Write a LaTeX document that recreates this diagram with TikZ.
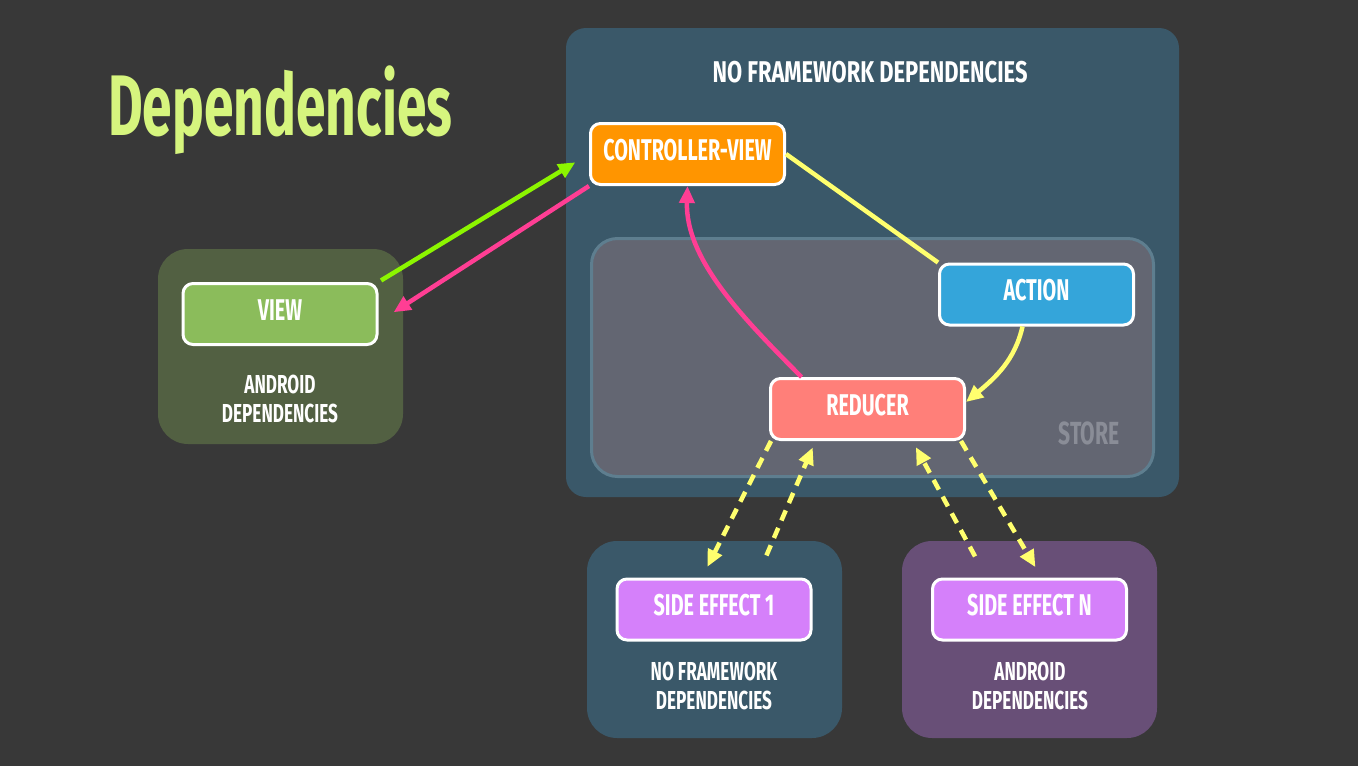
\documentclass[tikz,border=0pt]{standalone}
\usepackage{fontspec}
\setmainfont{Fira Sans}[FakeStretch=0.66]
\newfontfamily\titlefont{Fira Sans}[FakeStretch=0.62]
\newfontfamily\headfont{Fira Sans}[FakeStretch=0.73]
\usetikzlibrary{arrows.meta,positioning}
\definecolor{bgc}{HTML}{383838}
\definecolor{titlec}{HTML}{D6F57E}
\definecolor{nofwc}{HTML}{3A5869}
\definecolor{storec}{HTML}{636672}
\definecolor{storeline}{HTML}{5E7E8F}
\definecolor{storetext}{HTML}{8A8D97}
\definecolor{cvc}{HTML}{FF9500}
\definecolor{actc}{HTML}{34A5DA}
\definecolor{redc}{HTML}{FF7F79}
\definecolor{viewpc}{HTML}{526042}
\definecolor{viewc}{HTML}{8BBC5B}
\definecolor{sec}{HTML}{D580FA}
\definecolor{senpc}{HTML}{684F77}
\definecolor{arrgreen}{HTML}{8CF500}
\definecolor{arrpink}{HTML}{FF3E94}
\definecolor{arryellow}{HTML}{FFFF6E}

\begin{document}
\begin{tikzpicture}[x=1pt,y=-1pt,
	panel/.style={shape=rectangle, rounded corners=26pt, inner sep=0pt},
	box/.style={shape=rectangle, draw=white, line width=3pt, rounded corners=10pt, minimum width=194pt, minimum height=61pt, text=white, text height=20pt, text depth=8pt, font=\fontsize{30}{30}\selectfont\bfseries},
	note/.style={text=white, align=center, font=\fontsize{26}{29}\selectfont\bfseries},
	arr/.style={line width=4.5pt, -{Triangle[length=17pt,width=15pt]}},
	dashedarr/.style={arr, color=arryellow, dash pattern=on 11pt off 8pt}]
	\useasboundingbox (0,0) rectangle (1358,766);
	\fill[bgc] (0,0) rectangle (1358,766);
	\path (872.5,262.5) node (nofwp) [panel, fill=nofwc, minimum width=613pt, minimum height=469pt, rounded corners=20pt] {}
		  (872.5,357.5) node (storep) [panel, fill=storec, draw=storeline, line width=3pt, minimum width=562pt, minimum height=238pt] {}
		  (280.5,346.5) node (viewp) [panel, fill=viewpc, minimum width=245pt, minimum height=195pt, rounded corners=30pt] {}
		  (714.5,639.5) node (se1p) [panel, fill=nofwc, minimum width=255pt, minimum height=197pt, rounded corners=30pt] {}
		  (1029.5,639.5) node (senp) [panel, fill=senpc, minimum width=255pt, minimum height=197pt, rounded corners=30pt] {};
	\path (108,135) node (title) [anchor=base west, text=titlec, inner sep=0pt, font=\titlefont\fontsize{86}{86}\selectfont\bfseries] {Dependencies}
		  (870,72) node (nofwl) [text=white, font=\headfont\fontsize{30}{30}\selectfont\bfseries] {NO FRAMEWORK DEPENDENCIES}
		  (1089,433) node (storel) [text=storetext, font=\fontsize{32}{32}\selectfont\bfseries] {STORE}
		  (280,399) node (viewl) [note] {ANDROID\\DEPENDENCIES}
		  (714,686) node (se1l) [note] {NO FRAMEWORK\\DEPENDENCIES}
		  (1030,686) node (senl) [note] {ANDROID\\DEPENDENCIES};
	\path (687.5,154) node (cv) [box, fill=cvc] {CONTROLLER-VIEW}
		  (1036.5,294.5) node (act) [box, fill=actc] {ACTION}
		  (867.5,409) node (red) [box, fill=redc] {REDUCER}
		  (280,314) node (view) [box, fill=viewc] {VIEW}
		  (714,609.5) node (se1) [box, fill=sec] {SIDE EFFECT 1}
		  (1029.5,609.5) node (sen) [box, fill=sec] {SIDE EFFECT N};
	\draw[arr, arrgreen, shorten <=3pt, shorten >=16pt] (view.north east) -- (cv.west);
	\draw[arr, arrpink, shorten >=18pt] (cv.south west) -- ([yshift=-8pt]view.east);
	\draw[line width=4.5pt, arryellow] (cv.east) -- (act.north west);
	\draw[arr, arryellow] ([xshift=-14pt]act.south) .. controls (1015,360) and (995,378) .. ([yshift=7pt]red.east);
	\draw[arr, arrpink] ([xshift=-66pt]red.north) .. controls (745,320) and (685,260) .. (cv.south);
	\draw[dashedarr, shorten >=12pt] ([xshift=2pt]red.south west) -- ([xshift=-12pt]se1.north);
	\draw[dashedarr, shorten <=24pt, shorten >=7pt] ([xshift=43pt]se1.north) -- ([xshift=-52pt]red.south);
	\draw[dashedarr, shorten <=24pt, shorten >=7pt] ([xshift=-43pt]sen.north) -- ([xshift=45pt]red.south);
	\draw[dashedarr, shorten >=12pt] ([xshift=-5pt]red.south east) -- ([xshift=12pt]sen.north);
\end{tikzpicture}
\end{document}
